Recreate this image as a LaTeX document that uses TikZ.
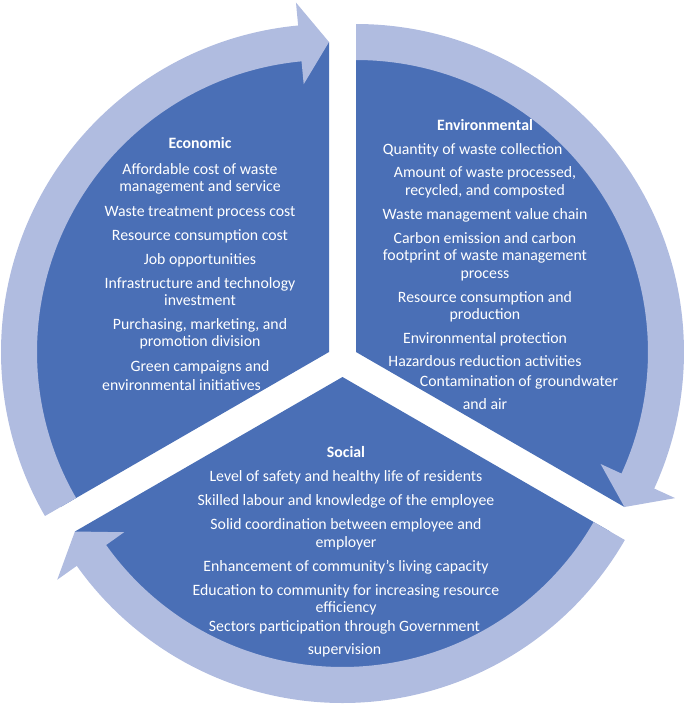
\documentclass[tikz,border=0pt]{standalone}
\usepackage{fontspec}
\setmainfont{Carlito}
\definecolor{piecol}{RGB}{74,111,182}
\definecolor{arrcol}{RGB}{176,188,224}
\tikzset{
  sector/.style={fill=piecol},
  ringarrow/.style={fill=arrcol},
  txt/.style={text=white, font=\fontsize{15.8}{17}\selectfont, anchor=base, inner sep=0pt},
  headtxt/.style={txt, font=\bfseries\fontsize{15.8}{17}\selectfont}
}
\begin{document}
\begin{tikzpicture}[x=1pt,y=1pt]
\useasboundingbox (0,0) rectangle (685,-705);
% sectors
\begin{scope}[shift={(329,-352)}]
  \fill[sector] (0,0) -- (90:310) arc[start angle=90,end angle=210,radius=310] -- cycle;
\end{scope}
\begin{scope}[shift={(356,-352)}]
  \fill[sector] (0,0) -- (-30:310) arc[start angle=-30,end angle=90,radius=310] -- cycle;
\end{scope}
\begin{scope}[shift={(342.5,-377)}]
  \fill[sector] (0,0) -- (210:309) arc[start angle=210,end angle=330,radius=309] -- cycle;
\end{scope}
% arrows
\begin{scope}[shift={(329,-352)}]
  \fill[ringarrow] (210:328) arc[start angle=210,end angle=95.4,radius=328] -- (95.4:351) -- (90:310) -- (95.4:269) -- (95.4:292) arc[start angle=95.4,end angle=210,radius=292] -- cycle;
\end{scope}
\begin{scope}[shift={(356,-352)}]
  \fill[ringarrow] (90:328) arc[start angle=90,end angle=-24.6,radius=328] -- (-24.6:351) -- (-30:310) -- (-24.6:269) -- (-24.6:292) arc[start angle=-24.6,end angle=90,radius=292] -- cycle;
\end{scope}
\begin{scope}[shift={(342.5,-377)}]
  \fill[ringarrow] (330:326) arc[start angle=330,end angle=215.4,radius=326] -- (215.4:350) -- (210:309) -- (215.4:268) -- (215.4:290) arc[start angle=215.4,end angle=330,radius=290] -- cycle;
\end{scope}
% Economic
\node[headtxt] (econ) at (200,-148.5) {Economic};
\foreach \n/\x/\y/\t in {
  e1/200/174.5/{Affordable cost of waste},
  e2/200/191.5/{management and service},
  e3/200/216.5/{Waste treatment process cost},
  e4/200/240.5/{Resource consumption cost},
  e5/200/264.5/{Job opportunities},
  e6/200/288.5/{Infrastructure and technology},
  e7/200/305.5/{investment},
  e8/200/329.5/{Purchasing, marketing, and},
  e9/200/346.5/{promotion division},
  e10/200/371.5/{Green campaigns and},
  e11/181.5/390/{environmental initiatives}}
  \node[txt] (\n) at (\x,-\y) {\t};
% Environmental
\node[headtxt] (env) at (485,-130) {Environmental};
\foreach \n/\x/\y/\t in {
  v1/472.7/154.5/{Quantity of waste collection},
  v2/485/177.5/{Amount of waste processed,},
  v3/485/195/{recycled, and composted},
  v4/485/219/{Waste management value chain},
  v5/485/243/{Carbon emission and carbon},
  v6/485/260.5/{footprint of waste management},
  v7/485/278/{process},
  v8/485/302.5/{Resource consumption and},
  v9/485/319.5/{production},
  v10/485/343.5/{Environmental protection},
  v11/485/366/{Hazardous reduction activities},
  v12/519/386.5/{Contamination of groundwater},
  v13/485/409.5/{and air}}
  \node[txt] (\n) at (\x,-\y) {\t};
% Social
\node[headtxt] (soc) at (346,-457) {Social};
\foreach \n/\x/\y/\t in {
  s1/346/481/{Level of safety and healthy life of residents},
  s2/346/505/{Skilled labour and knowledge of the employee},
  s3/346/529/{Solid coordination between employee and},
  s4/346/547/{employer},
  s5/346/571/{Enhancement of community’s living capacity},
  s6/346/595/{Education to community for increasing resource},
  s7/346/612/{efficiency},
  s8/344.5/631.5/{Sectors participation through Government},
  s9/344.5/654/{supervision}}
  \node[txt] (\n) at (\x,-\y) {\t};
\end{tikzpicture}
\end{document}
